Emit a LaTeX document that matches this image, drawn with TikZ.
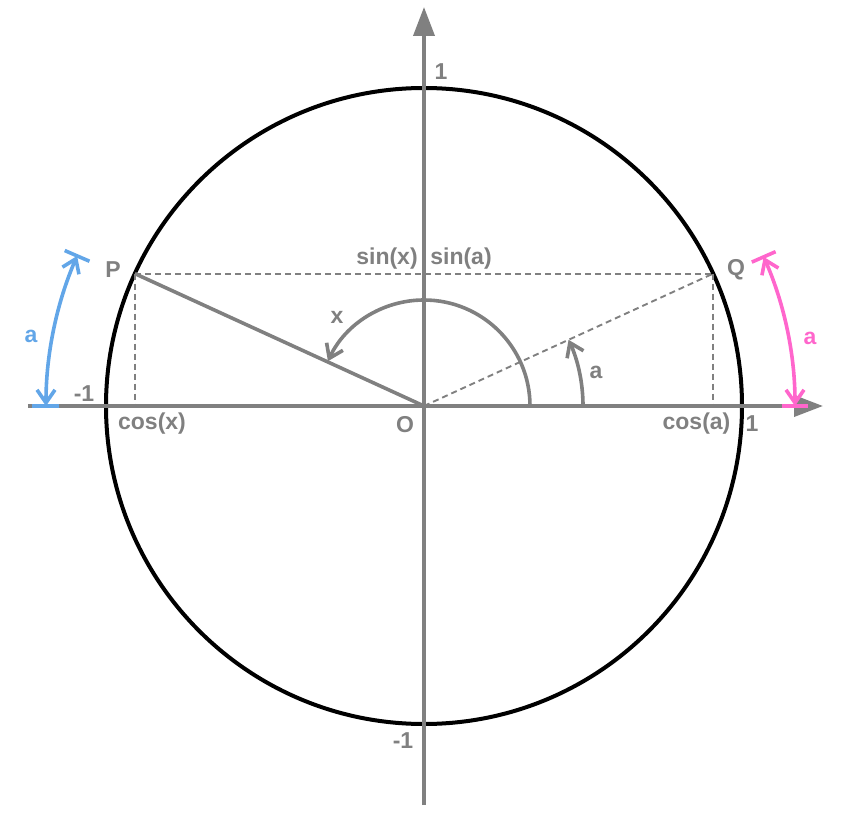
\documentclass[tikz,border=0pt]{standalone}
\usepackage{fontspec}
\setmainfont{Liberation Sans}
\usetikzlibrary{arrows.meta}
\definecolor{axgray}{RGB}{128,128,128}
\definecolor{lblue}{RGB}{98,166,232}
\definecolor{lpink}{RGB}{255,102,204}
\tikzset{
  axis/.style={draw=axgray,line width=3.8pt,-{Triangle[length=29pt,width=21pt]}},
  unitcircle/.style={draw=black,line width=4pt},
  guide/.style={draw=axgray,line width=1.9pt,dash pattern=on 6pt off 4pt},
  radius line/.style={draw=axgray,line width=3.6pt},
  anglearc/.style={draw=axgray,line width=3.6pt,-{Straight Barb[length=13pt,width=18pt]}},
  measarc/.style={line width=3.6pt,{Straight Barb[length=13pt,width=18pt]}-{Straight Barb[length=13pt,width=18pt]}},
  barmark/.style={line width=3.6pt},
  lbl/.style={inner sep=0pt,text=axgray,font=\fontsize{23}{27}\selectfont\bfseries},
}
\begin{document}
\begin{tikzpicture}[x=1pt,y=1pt]
\useasboundingbox (-424,-410) rectangle (426,406);
% key points
\coordinate (O) at (0,0);
\coordinate (P) at (155.4:318);
\coordinate (Q) at (24.6:318);
\coordinate (Px) at (P |- O);
\coordinate (Qx) at (Q |- O);
\coordinate (xl) at (-396,0);
\coordinate (xr) at (399,0);
\coordinate (yb) at (0,-399);
\coordinate (yt) at (0,399);
% circle
\draw[unitcircle] (O) circle[radius=318];
% guides
\draw[guide] (P) -- (Q);
\draw[guide] (P) -- (Px);
\draw[guide] (Q) -- (Qx);
\draw[guide] (O) -- (Q);
% axes
\draw[axis] (xl) -- (xr);
\draw[axis] (yb) -- (yt);
% radius to P
\draw[radius line] (O) -- (P);
% angle arcs
\coordinate (xarc0) at (106,0);
\draw[anglearc] (xarc0) arc[start angle=0,end angle=155,radius=106];
\coordinate (aarc0) at (159,0);
\draw[anglearc] (aarc0) arc[start angle=0,end angle=24.6,radius=159];
% blue measure arc
\coordinate (b0) at (180:378);
\coordinate (b1) at (156.6:378);
\draw[measarc,draw=lblue] (b0) arc[start angle=180,end angle=156.6,radius=378];
\draw[barmark,draw=lblue] (180:364.5) -- (180:391.5);
\draw[barmark,draw=lblue] (156.6:364.5) -- (156.6:391.5);
% pink measure arc
\coordinate (p0) at (0:371);
\coordinate (p1) at (23.7:371);
\draw[measarc,draw=lpink] (p0) arc[start angle=0,end angle=23.7,radius=371];
\draw[barmark,draw=lpink] (0:358) -- (0:384);
\draw[barmark,draw=lpink] (23.7:358) -- (23.7:384);
% labels
\node[lbl] (ytop) at (17,334) {1};
\node[lbl] (ybot) at (-21,-335) {-1};
\node[lbl] (xleft) at (-340,12) {-1};
\node[lbl] (xright) at (328,-18) {1};
\node[lbl] (cosa) at (272.5,-18) {cos(a)};
\node[lbl] (cosx) at (-272,-18) {cos(x)};
\node[lbl] (Olbl) at (-19,-19) {O};
\node[lbl] (sinx) at (-37,147) {sin(x)};
\node[lbl] (sina) at (37,147) {sin(a)};
\node[lbl] (Plbl) at (-311,136) {P};
\node[lbl] (Qlbl) at (312,136) {Q};
\node[lbl] (xlbl) at (-87,89) {x};
\node[lbl] (alb) at (172,34) {a};
\node[lbl,text=lblue] (ablue) at (-393,70) {a};
\node[lbl,text=lpink] (apink) at (386,68) {a};
\end{tikzpicture}
\end{document}
